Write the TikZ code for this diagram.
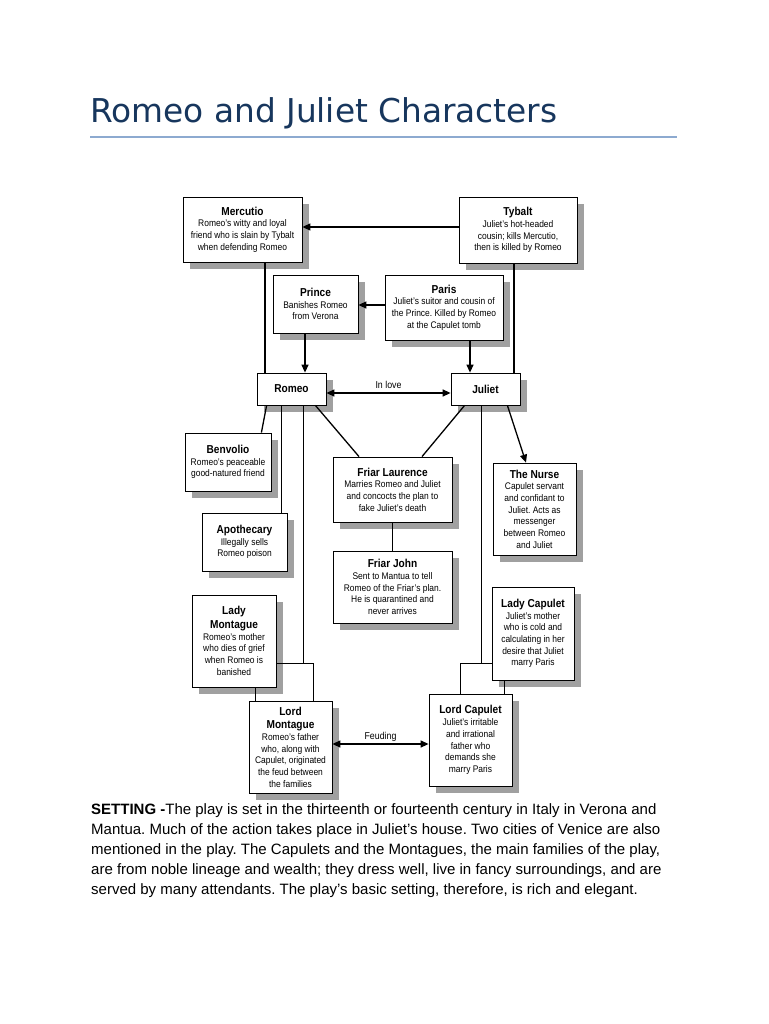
\documentclass[tikz,border=0pt]{standalone}
\usepackage{fontspec}
\setmainfont{Liberation Sans}
\newfontfamily\condfont[FakeStretch=0.88]{Liberation Sans}
\newfontfamily\headfont{DejaVu Sans}
\usetikzlibrary{arrows.meta,shadows,calc}
\definecolor{titleblue}{RGB}{23,54,93}
\definecolor{ruleblue}{RGB}{141,170,208}
\definecolor{shadowgray}{RGB}{160,160,160}
\newcommand\descfont{\condfont\fontsize{9.6}{11.7}\selectfont}
\newcommand\boxtitle[1]{{\condfont\bfseries\fontsize{11.5}{11.7}\selectfont #1}}
\newcommand\lblfont{\condfont\fontsize{10}{12}\selectfont}
\newcommand\setfont{\fontsize{15.0}{19.6}\selectfont}
\frenchspacing
\begin{document}
\begin{tikzpicture}[x=1pt,y=-1pt,
  box/.style={draw=black, line width=0.8pt, fill=white, inner sep=0pt, align=center, font=\descfont,
    drop shadow={shadow xshift=7pt, shadow yshift=-7pt, fill=shadowgray, opacity=1, draw=none}},
  conn/.style={line width=1.3pt},
  arr/.style={conn, -{Triangle[length=8pt,width=7pt]}},
  darr/.style={conn, {Triangle[length=8pt,width=7pt]}-{Triangle[length=8pt,width=7pt]}},
  lbl/.style={font=\lblfont, inner sep=0pt},
  settext/.style={anchor=base west, inner sep=0pt, font=\setfont}
]
\useasboundingbox[fill=white] (0,0) rectangle (768,1024);

% title
\node[anchor=base west, inner sep=0pt, font=\headfont\fontsize{32.8}{36}\selectfont, text=titleblue] (title) at (90,123) {Romeo and Juliet Characters};
\draw[ruleblue, line width=1.3pt] (90,137) -- (677,137);

% boxes
\node[box, minimum width=119, minimum height=65] (mer) at (242.5,229.5) {\boxtitle{Mercutio}\\Romeo’s witty and loyal\\friend who is slain by Tybalt\\when defending Romeo};
\node[box, minimum width=118, minimum height=66] (tyb) at (518,230) {\boxtitle{Tybalt}\\Juliet’s hot-headed\\cousin; kills Mercutio,\\then is killed by Romeo};
\node[box, minimum width=85, minimum height=58] (pri) at (315.5,304) {\boxtitle{Prince}\\Banishes Romeo\\from Verona};
\node[box, minimum width=118, minimum height=65] (par) at (444,307.5) {\boxtitle{Paris}\\Juliet’s suitor and cousin of\\the Prince. Killed by Romeo\\at the Capulet tomb};
\node[box, minimum width=69, minimum height=32] (rom) at (291.5,389) {\boxtitle{Romeo}};
\node[box, minimum width=69, minimum height=32] (jul) at (485.5,389) {\boxtitle{Juliet}};
\node[box, minimum width=86, minimum height=58] (ben) at (228,462) {\boxtitle{Benvolio}\\Romeo’s peaceable\\good-natured friend};
\node[box, minimum width=85, minimum height=58] (apo) at (244.5,542) {\boxtitle{Apothecary}\\Illegally sells\\Romeo poison};
\node[box, minimum width=119, minimum height=65] (frl) at (392.5,489.5) {\boxtitle{Friar Laurence}\\Marries Romeo and Juliet\\and concocts the plan to\\fake Juliet’s death};
\node[box, minimum width=119, minimum height=72] (frj) at (392.5,587) {\boxtitle{Friar John}\\Sent to Mantua to tell\\Romeo of the Friar’s plan.\\He is quarantined and\\never arrives};
\node[box, minimum width=83, minimum height=92] (nur) at (534.5,509) {\boxtitle{The Nurse}\\Capulet servant\\and confidant to\\Juliet. Acts as\\messenger\\between Romeo\\and Juliet};
\node[box, minimum width=84, minimum height=92] (lmo) at (234,641) {\boxtitle{Lady}\\[2pt]\boxtitle{Montague}\\Romeo’s mother\\who dies of grief\\when Romeo is\\banished};
\node[box, minimum width=83, minimum height=92] (lom) at (290.5,747) {\boxtitle{Lord}\\[2pt]\boxtitle{Montague}\\Romeo’s father\\who, along with\\Capulet, originated\\the feud between\\the families};
\node[box, minimum width=82, minimum height=93] (lca) at (533,633.5) {\boxtitle{Lady Capulet}\\Juliet’s mother\\who is cold and\\calculating in her\\desire that Juliet\\marry Paris};
\node[box, minimum width=83, minimum height=92] (loc) at (470.5,740) {\boxtitle{Lord Capulet}\\Juliet’s irritable\\and irrational\\father who\\demands she\\marry Paris};

% connectors
\draw[arr] ([yshift=3pt]tyb.west) -- ([yshift=3pt]tyb.west -| mer.east);
\draw[arr] ([yshift=2.5pt]par.west) -- ([yshift=2.5pt]par.west -| pri.east);
\draw[arr] ([xshift=-10.5pt]pri.south) -- ([xshift=-10.5pt]pri.south |- rom.north);
\draw[arr] ([xshift=26pt]par.south) -- ([xshift=26pt]par.south |- jul.north);
\draw[conn] ([xshift=22.5pt]mer.south) -- ([xshift=22.5pt]mer.south |- rom.north);
\draw[conn] ([xshift=-4pt]tyb.south) -- ([xshift=-4pt]tyb.south |- jul.north);
\draw[darr] ([yshift=-4pt]rom.east) -- ([yshift=-4pt]jul.west) node[lbl, midway, yshift=8pt] (inlove) {In love};
\draw[conn] ([xshift=10pt]rom.south west) -- ([xshift=-10pt]ben.north east);
\draw[conn] ([xshift=25pt]rom.south west) -- ([xshift=25pt]rom.south west |- apo.north);
\coordinate (mjoin) at ([yshift=24pt]lmo.south east);
\draw[conn] ([xshift=47pt]rom.south west) -- ([xshift=47pt]rom.south west |- mjoin);
\draw[conn] (mjoin) -| ([xshift=-19pt]lom.north east);
\draw[conn] ([xshift=7pt]lom.north west |- lmo.south) -- ([xshift=7pt]lom.north west);
\draw[conn] ([xshift=-11pt]rom.south east) -- ([xshift=-33.5pt]frl.north);
\draw[conn] ([xshift=14pt]jul.south west) -- ([xshift=29.5pt]frl.north);
\draw[arr] ([xshift=-13pt]jul.south east) -- ([xshift=-8.5pt]nur.north);
\coordinate (cjoin) at ([yshift=17pt]lca.south west);
\draw[conn] ([xshift=31pt]jul.south west) -- ([xshift=31pt]jul.south west |- cjoin);
\draw[conn] (cjoin) -| ([xshift=32pt]loc.north west);
\draw[conn] ([xshift=-8pt]loc.north east |- lca.south) -- ([xshift=-8pt]loc.north east);
\draw[conn] (frl.south) -- (frj.north);
\draw[darr] ([yshift=3pt]lom.east) -- ([yshift=3pt]lom.east -| loc.west) node[lbl, midway, yshift=7pt] (feud) {Feuding};

% setting text
\node[settext] (s1) at (91,814) {\textbf{SETTING -}The play is set in the thirteenth or fourteenth century in Italy in Verona and};
\node[settext] (s2) at (91,834) {Mantua. Much of the action takes place in Juliet’s house. Two cities of Venice are also};
\node[settext] (s3) at (91,854) {mentioned in the play. The Capulets and the Montagues, the main families of the play,};
\node[settext] (s4) at (91,874) {are from noble lineage and wealth; they dress well, live in fancy surroundings, and are};
\node[settext] (s5) at (91,894) {served by many attendants. The play’s basic setting, therefore, is rich and elegant.};
\end{tikzpicture}
\end{document}
